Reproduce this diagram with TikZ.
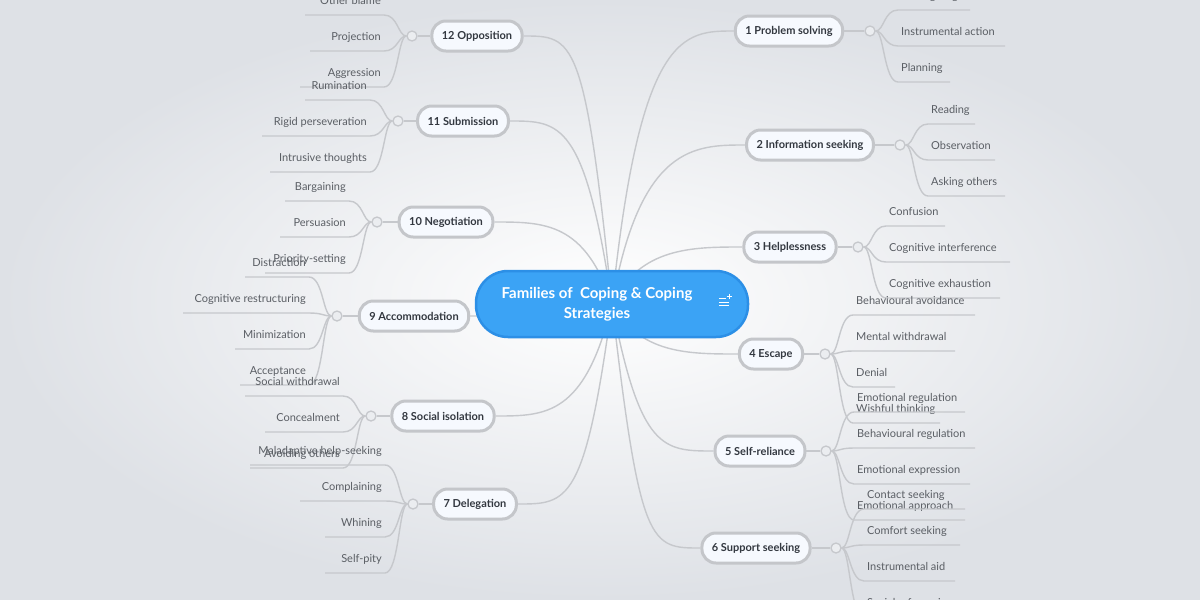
\documentclass[tikz,border=0pt]{standalone}
\usepackage{fontspec}
\usetikzlibrary{calc}
\setmainfont{Lato}
\definecolor{bgc}{HTML}{DEE1E6}
\definecolor{linec}{HTML}{C6C8CC}
\definecolor{topb}{HTML}{C4C6CA}
\definecolor{topf}{HTML}{F6F9FE}
\definecolor{blue1}{HTML}{3BA3F5}
\definecolor{blue2}{HTML}{2C8FE6}
\definecolor{txt}{HTML}{333840}
\definecolor{leaft}{HTML}{5A5E64}
\tikzset{
 link/.style={draw=linec, line width=1.4pt},
 topic/.style={draw=topb, line width=3pt, fill=topf, rounded corners=14pt, minimum height=30pt, inner xsep=10pt, font=\fontsize{11}{13}\selectfont\bfseries, text=txt},
 joint/.style={circle, draw=linec, line width=1.3pt, fill=bgc!60!white, minimum size=10pt, inner sep=0pt},
 leaf/.style={font=\fontsize{11}{13}\selectfont, text=leaft, inner sep=0pt},
}
\newcommand\branch[8]{%
 \node[topic] (t#1) at (#4,#5) {#7};
 \node[joint] (j#1) at (#6,#5) {};
 \draw[link] (t#1) -- (j#1);
 \foreach \ly/\ex/\tx [count=\n] in {#8} {
   \coordinate (s#1-\n) at (#6+#2*28,\ly);
   \coordinate (e#1-\n) at (\ex,\ly);
   \draw[link] (j#1) .. controls +(#2*14,0) and +(-#2*14,0) .. (s#1-\n) -- (e#1-\n);
   \node[leaf, anchor=base #3] (l#1-\n) at (#6+#2*31,\ly-11) {\tx};
 }
}
\begin{document}
\begin{tikzpicture}[x=1pt,y=-1pt]
\useasboundingbox (0,0) rectangle (1200,600);
\clip (0,0) rectangle (1200,600);
\fill[inner color=white, outer color=bgc] (0,0) rectangle (1200,600);
\coordinate (hub) at (612,304);
% right branches
\branch{1}{1}{west}{789}{31}{870}{1 Problem solving}{10/970/Strategizing,46/1005/Instrumental action,82/950/Planning}
\branch{2}{1}{west}{810}{145}{900}{2 Information seeking}{124/975/Reading,160/995/Observation,196/1005/Asking others}
\branch{3}{1}{west}{790}{247}{858}{3 Helplessness}{226/945/Confusion,262/1010/Cognitive interference,298/1000/Cognitive exhaustion}
\branch{4}{1}{west}{771}{354}{825}{4 Escape}{315/975/Behavioural avoidance,351/955/Mental withdrawal,387/895/Denial,423/940/Wishful thinking}
\branch{5}{1}{west}{760}{451}{826}{5 Self-reliance}{412/965/Emotional regulation,448/975/Behavioural regulation,484/970/Emotional expression,520/965/Emotional approach}
\branch{6}{1}{west}{756}{548}{836}{6 Support seeking}{509/965/Contact seeking,545/960/Comfort seeking,581/955/Instrumental aid,617/975/Social referencing}
% left branches
\branch{12}{-1}{east}{477}{36}{412}{12 Opposition}{15/305/Other blame,51/310/Projection,87/300/Aggression}
\branch{11}{-1}{east}{463}{121}{398}{11 Submission}{100/305/Rumination,136/262/Rigid perseveration,172/270/Intrusive thoughts}
\branch{10}{-1}{east}{446}{222}{377}{10 Negotiation}{201/285/Bargaining,237/280/Persuasion,273/265/Priority-setting}
\branch{9}{-1}{east}{414}{316}{337}{9 Accommodation}{277/245/Distraction,313/183/Cognitive restructuring,349/235/Minimization,385/240/Acceptance}
\branch{8}{-1}{east}{443}{416}{371}{8 Social isolation}{396/245/Social withdrawal,432/265/Concealment,468/250/Avoiding others}
\branch{7}{-1}{east}{475}{504}{413}{7 Delegation}{465/250/Maladaptive help-seeking,501/300/Complaining,537/325/Whining,573/325/Self-pity}
% main connectors
\foreach \t/\y in {1/31,2/145,3/247,4/354,5/451,6/548}
  \draw[link] (hub) .. controls (640,\y) and ($(t\t.west)+(-50,0)$) .. (t\t.west);
\foreach \t/\y in {12/36,11/121,10/222,9/316,8/416,7/504}
  \draw[link] (hub) .. controls (585,\y) and ($(t\t.east)+(50,0)$) .. (t\t.east);
% central node
\node[draw=blue2, line width=2.5pt, fill=blue1, rounded corners=32pt, minimum width=272pt, minimum height=66pt] (centre) at (612,304) {};
\node[align=center, text=white, font=\fontsize{15}{20}\selectfont\bfseries] (ctitle) at (597,304) {Families of\ \ Coping \& Coping\\Strategies};
\draw[white, line width=1pt] (719,298.5) -- (726,298.5) (719,302) -- (729,302) (719,305.5) -- (729,305.5)
  (726.5,296) -- (731.5,296) (729,293.5) -- (729,298.5);
\end{tikzpicture}
\end{document}
